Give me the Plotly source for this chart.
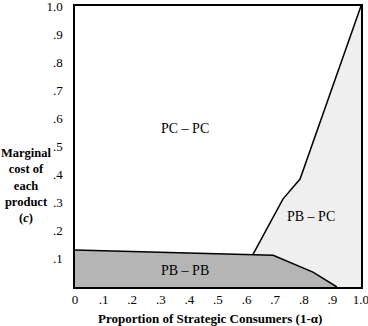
import plotly.graph_objects as go

# Boundary between PB-PB region and the rest (from left edge to bottom)
pbpb_x = [0.0, 0.693, 0.832, 0.916]
pbpb_y = [0.132, 0.113, 0.053, 0.0]

# Boundary between PC-PC and PB-PC regions
pbpc_x = [0.622, 0.727, 0.787, 1.0]
pbpc_y = [0.115, 0.313, 0.384, 1.0]

x_ticks = [0, 0.1, 0.2, 0.3, 0.4, 0.5, 0.6, 0.7, 0.8, 0.9, 1.0]
x_tick_labels = ["0", ".1", ".2", ".3", ".4", ".5", ".6", ".7", ".8", ".9", "1.0"]
y_ticks = [0.1, 0.2, 0.3, 0.4, 0.5, 0.6, 0.7, 0.8, 0.9, 1.0]
y_tick_labels = [".1", ".2", ".3", ".4", ".5", ".6", ".7", ".8", ".9", "1.0"]

region_names = ["PC – PC", "PB – PC", "PB – PB"]
region_x = [0.385, 0.825, 0.385]
region_y = [0.565, 0.25, 0.06]

SERIF = "Liberation Serif, Times New Roman, serif"
LIGHT = "#efefef"
MID = "#b5b5b5"

TOP, BOT = 6, 287
H = BOT - TOP

fig = go.Figure()

# PB-PC region (light gray)
light_x = pbpc_x + [1.0] + [pbpb_x[3], pbpb_x[2], pbpb_x[1]] + [pbpc_x[0]]
light_y = pbpc_y + [0.0] + [pbpb_y[3], pbpb_y[2], pbpb_y[1]] + [pbpc_y[0]]
fig.add_trace(go.Scatter(x=light_x, y=light_y, fill="toself", fillcolor=LIGHT,
                         mode="lines", line=dict(width=0), hoverinfo="skip"))

# PB-PB region (medium gray)
mid_x = pbpb_x + [0.0, pbpb_x[0]]
mid_y = pbpb_y + [0.0, pbpb_y[0]]
fig.add_trace(go.Scatter(x=mid_x, y=mid_y, fill="toself", fillcolor=MID,
                         mode="lines", line=dict(width=0), hoverinfo="skip"))

# Boundary lines
fig.add_trace(go.Scatter(x=pbpb_x, y=pbpb_y, mode="lines",
                         line=dict(color="black", width=1.5), hoverinfo="skip"))
fig.add_trace(go.Scatter(x=pbpc_x, y=pbpc_y, mode="lines",
                         line=dict(color="black", width=1.5), hoverinfo="skip"))

for name, rx, ry in zip(region_names, region_x, region_y):
    fig.add_annotation(x=rx, y=ry, text=name, showarrow=False,
                       font=dict(family=SERIF, size=14, color="black"))

# Axis titles
fig.add_annotation(xref="paper", yref="paper", x=(210 - 75) / 286, y=-(318 - BOT) / H,
                   text="<b>Proportion of Strategic Consumers (1-α)</b>",
                   showarrow=False, xanchor="center", yanchor="middle",
                   font=dict(family=SERIF, size=13, color="black"))
fig.add_annotation(xref="paper", yref="paper", x=(26 - 75) / 286, y=(BOT - 186) / H,
                   text="<b>Marginal<br>cost of<br>each<br>product<br>(<i>c</i>)</b>",
                   showarrow=False, xanchor="center", yanchor="middle", align="center",
                   font=dict(family=SERIF, size=12.5, color="black"))

fig.update_layout(
    width=368, height=326,
    margin=dict(l=75, r=7, t=TOP, b=326 - BOT, autoexpand=False),
    paper_bgcolor="white", plot_bgcolor="white",
    showlegend=False,
    xaxis=dict(range=[0, 1.0001], tickvals=x_ticks, ticktext=x_tick_labels,
               showgrid=False, zeroline=False, showline=True, linecolor="black",
               linewidth=1.5, mirror=True, ticks="", ticklabelstandoff=0,
               ticklabeloverflow="allow", automargin=False,
               tickfont=dict(family=SERIF, size=13, color="black"), fixedrange=True),
    yaxis=dict(range=[0, 1.0001], tickvals=y_ticks, ticktext=y_tick_labels,
               showgrid=False, zeroline=False, showline=True, linecolor="black",
               linewidth=1.5, mirror=True, ticks="", ticklabelstandoff=8,
               ticklabeloverflow="allow", automargin=False,
               tickfont=dict(family=SERIF, size=13, color="black"), fixedrange=True),
)

fig.write_html("out.html")
